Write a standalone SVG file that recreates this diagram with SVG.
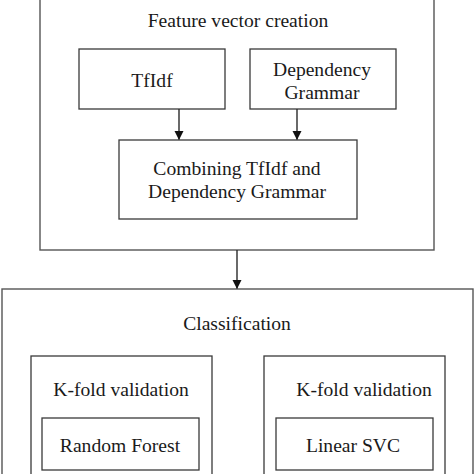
<svg xmlns="http://www.w3.org/2000/svg" width="474" height="474" viewBox="0 0 474 474">
<style>
.box{fill:#fff;stroke:#3a3a3a;stroke-width:1.3}
.outer{fill:#fff;stroke:#555;stroke-width:1.4}
text{font-family:"Liberation Serif","Times New Roman",serif;font-size:19.6px;fill:#1a1a1a;text-anchor:middle}
.conn{stroke:#2a2a2a;stroke-width:1.4;fill:none}
</style>
<defs>
<marker id="ah" markerWidth="9" markerHeight="10" refX="8.5" refY="4.5" orient="auto" markerUnits="userSpaceOnUse">
<path d="M0,0 L9,4.5 L0,9 Z" fill="#111"/>
</marker>
</defs>
<rect width="474" height="474" fill="#fff"/>
<g id="feature-vector-creation">
<rect class="outer" x="40" y="-10" width="394" height="260"/>
<text x="238" y="27">Feature vector creation</text>
</g>
<g id="tfidf">
<rect class="box" x="79" y="49" width="146" height="60"/>
<text x="152" y="87">TfIdf</text>
</g>
<g id="dependency-grammar">
<rect class="box" x="250" y="49" width="146" height="60"/>
<text x="322" y="76">Dependency</text>
<text x="322" y="99">Grammar</text>
</g>
<g id="combining">
<rect class="box" x="119" y="140" width="238" height="79"/>
<text x="237" y="175">Combining TfIdf and</text>
<text x="237" y="198">Dependency Grammar</text>
</g>
<g id="classification">
<rect class="outer" x="2" y="289" width="471" height="200"/>
<text x="237" y="330">Classification</text>
</g>
<g id="kfold-left">
<rect class="box" x="31" y="356" width="181" height="130"/>
<text x="121" y="396">K-fold validation</text>
</g>
<g id="kfold-right">
<rect class="box" x="264" y="356" width="181" height="130"/>
<text x="364" y="396">K-fold validation</text>
</g>
<g id="random-forest">
<rect class="box" x="42" y="418" width="157" height="52"/>
<text x="120" y="452">Random Forest</text>
</g>
<g id="linear-svc">
<rect class="box" x="276" y="418" width="157" height="52"/>
<text x="353" y="452">Linear SVC</text>
</g>
<g id="connectors">
<line class="conn" x1="179" y1="109" x2="179" y2="139.5" marker-end="url(#ah)"/>
<line class="conn" x1="297" y1="109" x2="297" y2="139.5" marker-end="url(#ah)"/>
<line class="conn" x1="237" y1="250" x2="237" y2="288.5" marker-end="url(#ah)"/>
</g>
</svg>
